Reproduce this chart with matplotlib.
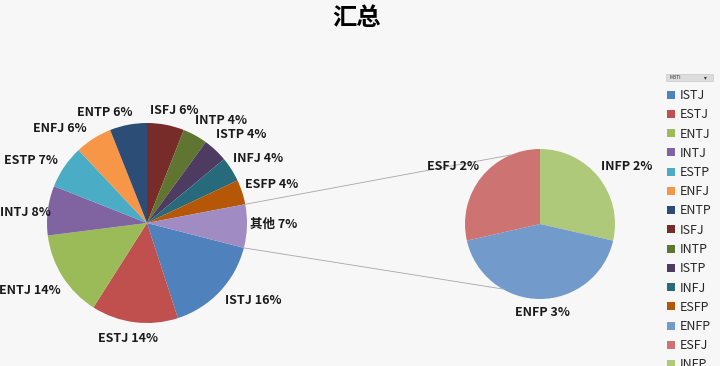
import numpy as np
import matplotlib
matplotlib.use("Agg")
import matplotlib.pyplot as plt
from matplotlib.patches import Rectangle

plt.rcParams['font.family'] = ['Noto Sans CJK SC', 'DejaVu Sans']

# main pie (percent), clockwise from ISTJ
main_labels = ["ISTJ", "ESTJ", "ENTJ", "INTJ", "ESTP", "ENFJ", "ENTP",
               "ISFJ", "INTP", "ISTP", "INFJ", "ESFP", "其他"]
main_values = [16, 14, 14, 8, 7, 6, 6, 6, 4, 4, 4, 4, 7]
main_colors = ["#4F81BD", "#C0504D", "#9BBB59", "#8064A2", "#4BACC6", "#F79646",
               "#2C4D75", "#772C2A", "#5F7530", "#4D3B62", "#276A7C", "#B65708",
               "#A08CC2"]

# secondary pie: breakdown of 其他
sub_labels = ["INFP", "ENFP", "ESFJ"]
sub_values = [2, 3, 2]
sub_colors = ["#AFC97A", "#729ACA", "#CD7371"]

legend_order = ["ISTJ", "ESTJ", "ENTJ", "INTJ", "ESTP", "ENFJ", "ENTP", "ISFJ",
                "INTP", "ISTP", "INFJ", "ESFP", "ENFP", "ESFJ", "INFP"]

W, H = 720, 366
fig = plt.figure(figsize=(7.2, 3.66), dpi=100)
fig.patch.set_facecolor("#F7F7F7")
ax = fig.add_axes([0, 0, 1, 1])

c1, r1 = (147, H - 223), 100
c2, r2 = (540, H - 224), 75

# start so that ISFJ begins at 12 o'clock
start1 = 90 + 360 * sum(main_values[:7]) / sum(main_values)
w1, _ = ax.pie(main_values, colors=main_colors, startangle=start1, counterclock=False,
               center=c1, radius=r1, frame=True,
               wedgeprops=dict(edgecolor="none"))
w2, _ = ax.pie(sub_values, colors=sub_colors, startangle=90, counterclock=False,
               center=c2, radius=r2, frame=True,
               wedgeprops=dict(edgecolor="none"))
ax.set_xlim(0, W)
ax.set_ylim(0, H)
ax.set_aspect("equal")
ax.axis("off")

# connector lines from 其他 slice to the secondary pie
other = w1[-1]
a_top, a_bot = np.radians(other.theta2), np.radians(other.theta1)
p_top = (c1[0] + r1 * np.cos(a_top), c1[1] + r1 * np.sin(a_top))
p_bot = (c1[0] + r1 * np.cos(a_bot), c1[1] + r1 * np.sin(a_bot))
q_top = (c2[0] + r2 * np.cos(np.radians(113)), c2[1] + r2 * np.sin(np.radians(113)))
q_bot = (c2[0] + r2 * np.cos(np.radians(240)), c2[1] + r2 * np.sin(np.radians(240)))
ax.plot([p_top[0], q_top[0]], [p_top[1], q_top[1]], color="#A6A6A6", lw=0.6)
ax.plot([p_bot[0], q_bot[0]], [p_bot[1], q_bot[1]], color="#A6A6A6", lw=0.6)

# data labels (pixel positions from top-left)
main_pos = [(253, 301), (128, 339), (30, 290), (25, 213), (31, 161), (60, 128),
            (105, 112), (174, 111), (221, 120), (241, 135), (258, 158), (272, 185),
            (274, 224)]
for lab, v, (x, y) in zip(main_labels, main_values, main_pos):
    ax.text(x, H - y, f"{lab} {v}%", ha="center", va="center",
            fontsize=9, fontweight="bold", color="#1A1A1A")
sub_pos = [(627, 167), (542, 313), (453, 167)]
for lab, v, (x, y) in zip(sub_labels, sub_values, sub_pos):
    ax.text(x, H - y, f"{lab} {v}%", ha="center", va="center",
            fontsize=9, fontweight="bold", color="#1A1A1A")

ax.text(357, H - 18, "汇总", ha="center", va="center", fontsize=17.5,
        fontweight="bold", color="#000000")

# legend
handles = {lab: w for lab, w in zip(main_labels, w1)}
handles.update({lab: w for lab, w in zip(sub_labels, w2)})
leg = fig.legend([handles[k] for k in legend_order], legend_order,
                 loc="upper left", bbox_to_anchor=(667 / W, 1 - 89 / H),
                 frameon=False, fontsize=9, handlelength=0.6, handleheight=0.6,
                 handletextpad=0.45, labelspacing=0.5, borderaxespad=0, borderpad=0)
for t in leg.get_texts():
    t.set_color("#262626")

# field button above the legend
ax.add_patch(Rectangle((666, H - 81), 47, 7.5, facecolor="#DCDCDC", edgecolor="#C8C8C8", lw=0.5))
ax.text(669, H - 77.3, "MBTI", fontsize=3.5, va="center", color="#333333")
ax.text(704, H - 77.8, "▾", fontsize=4, va="center", color="#333333", family="DejaVu Sans")

fig.savefig("out.png", dpi=100, facecolor=fig.get_facecolor())
